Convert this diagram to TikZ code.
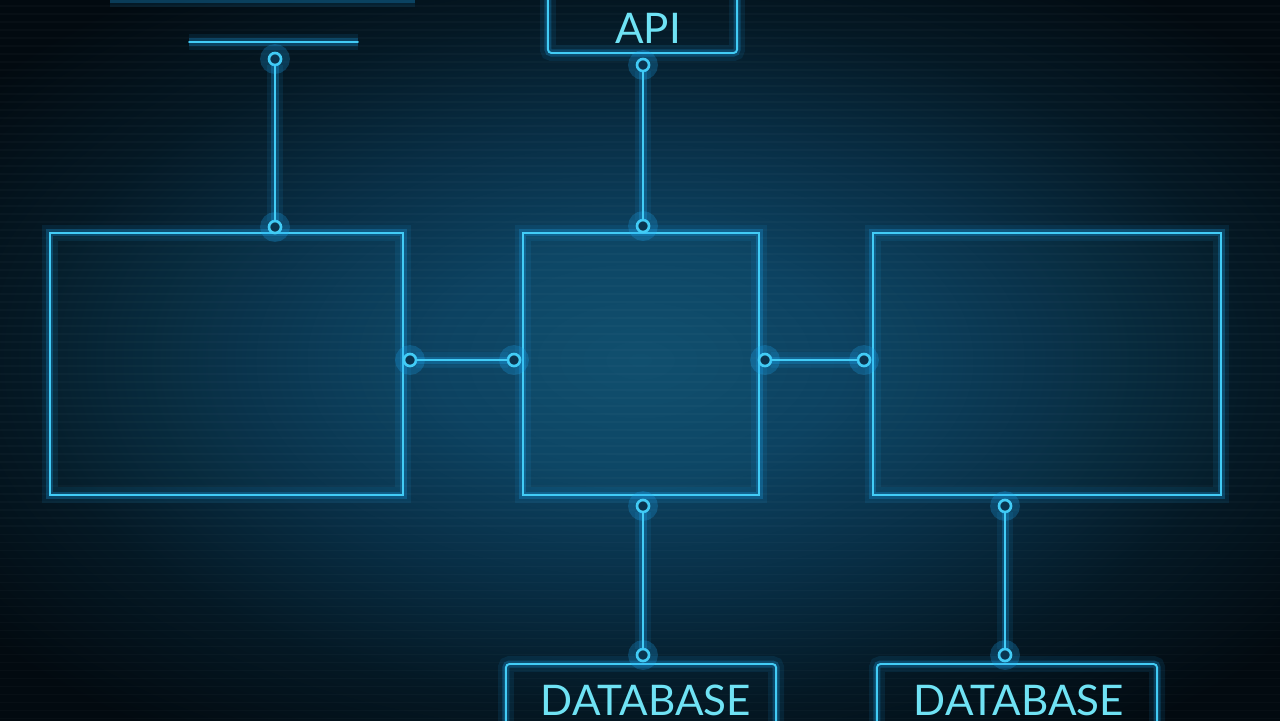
\documentclass[tikz,border=0pt]{standalone}
\usepackage{fontspec}
\setmainfont{Lato}
\usetikzlibrary{calc}
\definecolor{neon}{HTML}{42CCF6}
\definecolor{neonglow}{HTML}{1CA6F0}
\definecolor{neontext}{HTML}{6FE2F4}
\definecolor{portfill}{HTML}{0A3550}
\definecolor{bgcenter}{HTML}{0F4B6A}
\definecolor{bginner}{HTML}{0C4261}
\definecolor{bgmid}{HTML}{082E45}
\definecolor{bgouter}{HTML}{041824}
\definecolor{bgedge}{HTML}{020A10}
\pgfdeclareradialshading{bgglow}{\pgfpoint{0cm}{0cm}}{%
  color(0bp)=(bgcenter); color(8bp)=(bginner);
  color(16bp)=(bgmid); color(24bp)=(bgouter);
  color(32bp)=(bgedge); color(50bp)=(bgedge)}
\tikzset{%
  >=latex, % option for nice arrows
  neon line/.style={draw=neon,line width=0.55pt,line cap=round,
    preaction={draw=neonglow,line width=4.5pt,opacity=0.10},
    preaction={draw=neonglow,line width=2pt,opacity=0.25}},
  panel/.style={neon line,rectangle,inner sep=0pt,outer sep=0pt,
    fill=neon,fill opacity=0.03},
  tag box/.style={neon line,rectangle,rounded corners=1pt,
    inner sep=0pt,outer sep=0pt},
  tag text/.style={text=neontext,inner sep=0pt,
    font=\fontsize{12}{12}\selectfont},
  port/.style={circle,draw=neon,line width=0.75pt,fill=portfill,
    minimum size=0.12cm,inner sep=0pt,outer sep=0pt,
    preaction={draw=neonglow,line width=5pt,opacity=0.25}},
  wire/.style={neon line,line width=0.5pt},
  scan line/.style={draw=white,line width=0.3pt,opacity=0.025}%
}
\begin{document}
\begin{tikzpicture}[x=0.01cm,y=-0.01cm] % pixel grid, y downwards

%% background

\useasboundingbox (0,0) rectangle (1280,720);
\clip (0,0) rectangle (1280,720);
\shade[shading=bgglow] (0,0) rectangle (1280,720);
\foreach \y in {6,14,...,718}
  \draw[scan line] (0,\y) -- (1280,\y);

%% panels

\node[panel,minimum width=3.53cm,minimum height=2.62cm] (left) at (226.5,364) {};
\node[panel,minimum width=2.36cm,minimum height=2.62cm] (mid) at (641,364) {};
\node[panel,minimum width=3.48cm,minimum height=2.62cm] (right) at (1047,364) {};

%% tags (cut by the frame)

\coordinate (topW) at (110,-1);
\coordinate (topE) at (415,-1);
\draw[neon line] (topW) -- (topE);
\coordinate (titleW) at (189,42);
\coordinate (titleE) at (358,42);
\draw[neon line] (titleW) -- (titleE);

\node[tag box,minimum width=1.89cm,minimum height=0.9cm,anchor=south] (api) at (642.5,53) {};
\node[tag text] (apiT) at (648,28) {API};
\node[tag box,minimum width=2.70cm,minimum height=0.9cm,anchor=north] (dbA) at (641,664) {};
\node[tag text] (dbAT) at (646,700) {DATABASE};
\node[tag box,minimum width=2.80cm,minimum height=0.9cm,anchor=north] (dbB) at (1017,664) {};
\node[tag text] (dbBT) at (1019,700) {DATABASE};

%% ports

\node[port] (titleP) at (275,59) {};
\node[port] (leftN) at (275,227) {};
\node[port] (apiP) at (643,65) {};
\node[port] (midN) at (643,226) {};
\node[port] (leftE) at (410,360) {};
\node[port] (midW) at (514,360) {};
\node[port] (midE) at (765,360) {};
\node[port] (rightW) at (864,360) {};
\node[port] (midS) at (643,506) {};
\node[port] (dbAP) at (643,655) {};
\node[port] (rightS) at (1005,506) {};
\node[port] (dbBP) at (1005,655) {};

%% connectors

\draw[wire] (titleP) -- (leftN);
\draw[wire] (apiP) -- (midN);
\draw[wire] (leftE) -- (midW);
\draw[wire] (midE) -- (rightW);
\draw[wire] (midS) -- (dbAP);
\draw[wire] (rightS) -- (dbBP);

\end{tikzpicture}
\end{document}
